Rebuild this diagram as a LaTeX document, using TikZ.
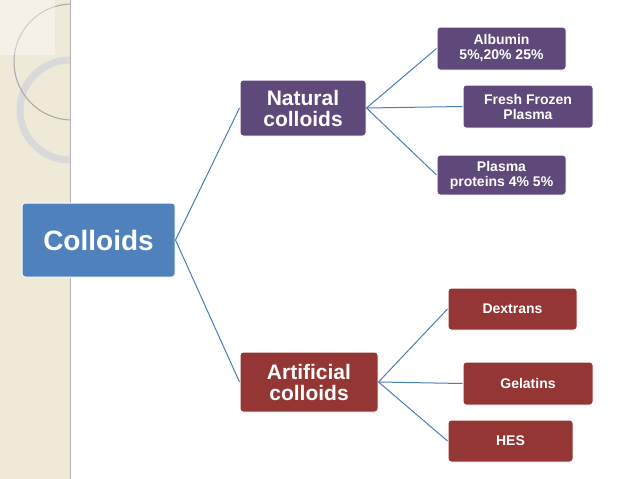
\documentclass[tikz,border=0pt]{standalone}
\usepackage{fontspec}
\setmainfont{Liberation Sans}
\definecolor{cblue}{HTML}{4F81BD}
\definecolor{cpurp}{HTML}{5F497A}
\definecolor{cred}{HTML}{943634}
\definecolor{cline}{HTML}{4A7EBB}
\definecolor{beige}{HTML}{EFE9D8}
\begin{document}
\begin{tikzpicture}[x=1pt,y=-1pt,
 bx/.style={draw=white,line width=1pt,rounded corners=3pt,text=white,font=\bfseries,align=center,inner sep=0pt},
 conn/.style={draw=cline,line width=1pt}]
\useasboundingbox (0,0) rectangle (638,479);
\fill[white] (0,0) rectangle (638,479);
\fill[beige] (0,0) rectangle (70,479);
\draw[gray!60,line width=1pt] (70,0) -- (70,479);
\begin{scope}
\clip (0,0) rectangle (70,479);
\draw[gray!30,line width=7pt] (70,110) circle (50);
\draw[gray!70,line width=1pt] (72,62) circle (58);
\fill[white,opacity=0.4] (0,0) rectangle (55,55);
\end{scope}
\node[bx,fill=cblue,minimum width=153pt,minimum height=74pt,font=\bfseries\fontsize{28}{30}\selectfont] (c) at (98.5,240) {Colloids};
\node[bx,fill=cpurp,minimum width=126pt,minimum height=56pt,font=\bfseries\fontsize{21}{21}\selectfont] (n) at (303,108) {Natural\\colloids};
\node[bx,fill=cred,minimum width=138pt,minimum height=60pt,font=\bfseries\fontsize{21}{21}\selectfont] (a) at (309,382) {Artificial\\colloids};
\begin{scope}[every node/.style={bx,minimum width=129pt,minimum height=43pt,font=\bfseries\fontsize{14}{15}\selectfont}]
\node[fill=cpurp] (n1) at (501.5,48.5) {Albumin\\5\%,20\% 25\%};
\node[fill=cpurp,minimum width=130pt] (n2) at (528,106.5) {Fresh Frozen\\Plasma};
\node[fill=cpurp,minimum height=40pt] (n3) at (501.5,175) {Plasma\\proteins 4\% 5\%};
\node[fill=cred,minimum height=42pt] (a1) at (512.5,309) {Dextrans};
\node[fill=cred,minimum width=130pt] (a2) at (528,383.5) {Gelatins};
\node[fill=cred,minimum width=125pt,minimum height=42pt] (a3) at (510.5,441) {HES};
\end{scope}
\draw[conn] (c.east) -- (n.west);
\draw[conn] (c.east) -- (a.west);
\foreach \t in {n1,n2,n3} \draw[conn] (n.east) -- (\t.west);
\foreach \t in {a1,a2,a3} \draw[conn] (a.east) -- (\t.west);
\end{tikzpicture}
\end{document}
